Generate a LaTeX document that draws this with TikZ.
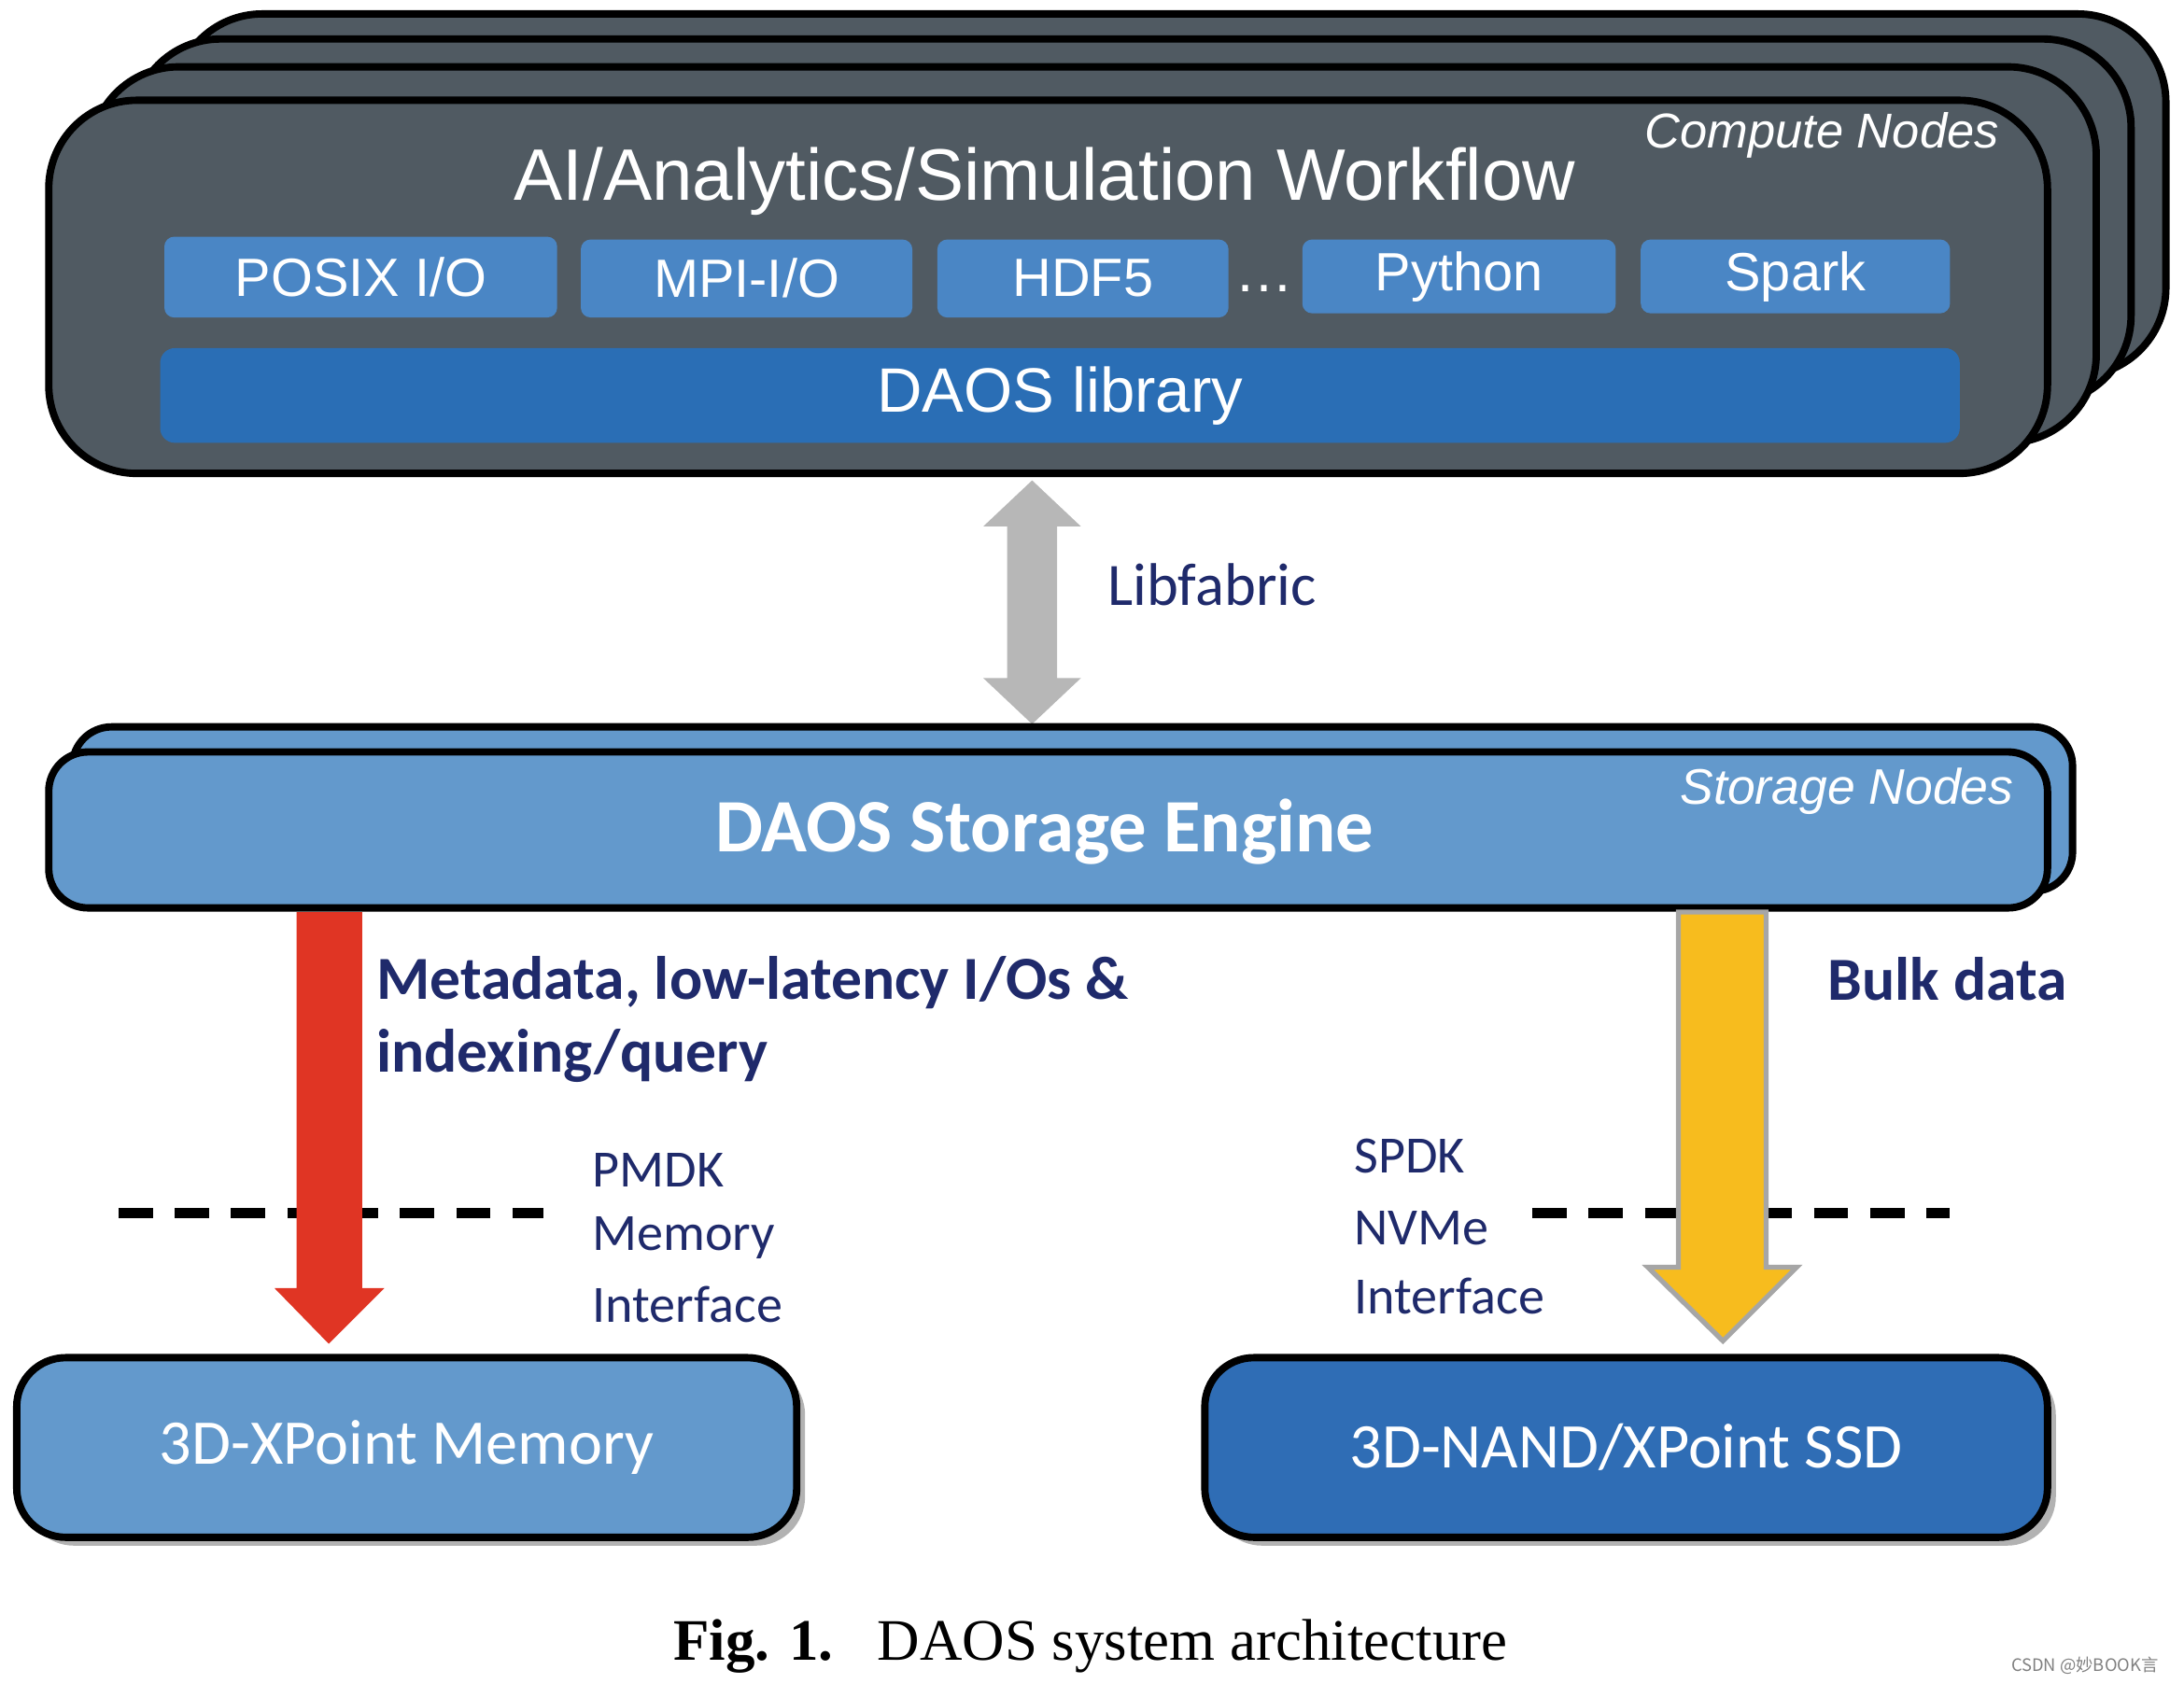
\documentclass[tikz,border=0pt]{standalone}
\usepackage{fontspec}
\setmainfont{Liberation Sans}
\newfontfamily\carl{Carlito}
\newfontfamily\tms{Liberation Serif}
\newfontfamily\cjk{Noto Sans CJK SC}
\definecolor{panel}{HTML}{505A62}
\definecolor{bbox}{HTML}{4A86C5}
\definecolor{lib}{HTML}{2A6EB5}
\definecolor{stor}{HTML}{6399CC}
\definecolor{navy}{HTML}{1F2A6B}
\definecolor{ssd}{HTML}{2F6DB5}
\tikzset{
 pnl/.style={fill=panel,draw=black,line width=1.5pt,rounded corners=18pt},
 sbox/.style={fill=bbox,rounded corners=2pt,text=white,font=\fontsize{11}{13}\selectfont},
 snode/.style={fill=stor,draw=black,line width=1.5pt,rounded corners=8pt},
 lbl/.style={text=navy,font=\carl\fontsize{10.7}{12}\selectfont,anchor=west},
 dashline/.style={line width=2pt,dash pattern=on 7pt off 4.5pt},
}
\begin{document}
\begin{tikzpicture}[x=0.01cm,y=-0.01cm]
\useasboundingbox (0,0) rectangle (1568,1209);
\draw[pnl] (125,10) rectangle (1555,270);
\draw[pnl] (95,28) rectangle (1530,290);
\draw[pnl] (65,48) rectangle (1505,318);
\draw[pnl] (35,72) rectangle (1470,340);
\node[text=white,font=\fontsize{14.9}{17}\selectfont] (title) at (750,130) {AI/Analytics/Simulation Workflow};
\node[text=white,font=\fontsize{10}{12}\selectfont\itshape] (cn) at (1308,97) {Compute Nodes};
\path[sbox] (118,170) rectangle (400,228) node[midway] (posix) {POSIX I/O};
\path[sbox] (417,172) rectangle (655,228) node[midway] (mpi) {MPI-I/O};
\path[sbox] (673,172) rectangle (882,228) node[midway] (hdf) {HDF5};
\node[text=white,font=\fontsize{12}{14}\selectfont] (dots) at (908,207) {\dots};
\path[sbox] (935,172) rectangle (1160,225) node[midway] (py) {Python};
\path[sbox] (1178,172) rectangle (1400,225) node[midway] (spark) {Spark};
\path[fill=lib,rounded corners=3pt] (115,250) rectangle (1407,318) node[midway,text=white,font=\fontsize{12.8}{15}\selectfont] (lib) {DAOS library};
% gray double arrow
\fill[fill={rgb,255:red,183;green,183;blue,183}] (741,345) -- (776,378) -- (759,378) -- (759,487) -- (776,487) -- (741,520) -- (706,487) -- (723,487) -- (723,378) -- (706,378) -- cycle;
\node[lbl,font=\carl\fontsize{12.3}{14}\selectfont] (lf) at (783,420) {Libfabric};
% storage
\draw[snode] (52,522) rectangle (1488,640);
\draw[snode] (35,540) rectangle (1470,652);
\node[text=white,font=\carl\bfseries\fontsize{15.4}{18}\selectfont] (dse) at (750,597) {DAOS Storage Engine};
\node[text=white,font=\fontsize{10.2}{12}\selectfont\itshape] (sn) at (1326,568) {Storage Nodes};
% dashed
\draw[dashline] (85,871) -- (390,871);
\draw[dashline] (1100,871) -- (1400,871);
% red arrow
\fill[fill={rgb,255:red,224;green,53;blue,36}] (213,655) -- (260,655) -- (260,925) -- (276,925) -- (236,965) -- (197,925) -- (213,925) -- cycle;
% yellow arrow
\draw[fill={rgb,255:red,247;green,188;blue,30},draw=gray!70,line width=1pt] (1205,655) -- (1268,655) -- (1268,910) -- (1290,910) -- (1237,963) -- (1183,910) -- (1205,910) -- cycle;
\node[lbl,font=\carl\bfseries\fontsize{12.5}{14}\selectfont] (md1) at (258,706) {Metadata, low-latency I/Os \&};
\node[lbl,font=\carl\bfseries\fontsize{12.5}{14}\selectfont] (md2) at (258,758) {indexing/query};
\node[lbl,font=\carl\bfseries\fontsize{12.5}{14}\selectfont] (bulk) at (1300,703) {Bulk data};
\node[lbl] (p1) at (413,840) {PMDK};
\node[lbl] (p2) at (413,889) {Memory};
\node[lbl] (p3) at (413,937) {Interface};
\node[lbl] (s1) at (960,830) {SPDK};
\node[lbl] (s2) at (960,882) {NVMe};
\node[lbl] (s3) at (960,931) {Interface};
% bottom boxes
\fill[gray!60,rounded corners=10pt] (18,981) rectangle (578,1110);
\draw[fill=stor,draw=black,line width=1.5pt,rounded corners=10pt] (12,975) rectangle (572,1104) node[midway,text=white,font=\carl\fontsize{13}{15}\selectfont] (xm) {3D-XPoint Memory};
\fill[gray!60,rounded corners=10pt] (871,981) rectangle (1476,1110);
\draw[fill=ssd,draw=black,line width=1.5pt,rounded corners=10pt] (865,975) rectangle (1470,1104) node[midway,text=white,font=\carl\fontsize{13}{15}\selectfont] (nand) {3D-NAND/XPoint SSD};
\node[font=\tms\fontsize{12}{14}\selectfont] (cap) at (783,1182) {\textbf{Fig. 1.}\enspace\ DAOS system architecture};
\node[anchor=east,text=gray,font=\cjk\fontsize{3.5}{4}\selectfont] (wm) at (1562,1196) {CSDN @妙BOOK言};
\end{tikzpicture}
\end{document}
